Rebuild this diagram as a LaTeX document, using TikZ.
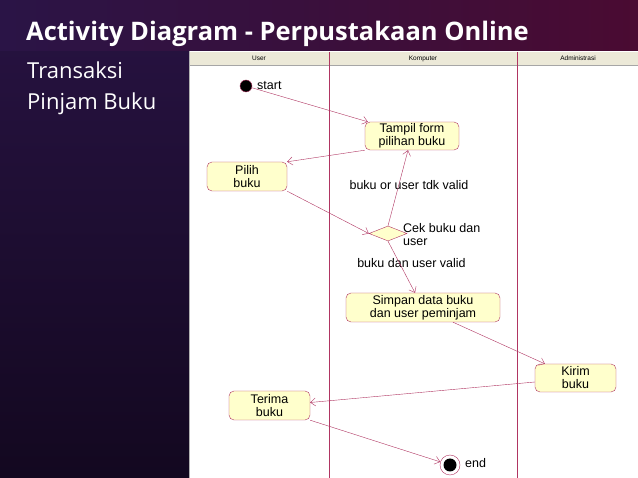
\documentclass[tikz,border=0pt]{standalone}
\usepackage{fontspec}
\setmainfont{Liberation Sans}
\newfontfamily\slidefont{Open Sans}
\usetikzlibrary{shapes.geometric,arrows.meta}

\definecolor{bgkiri}{HTML}{2A1446}
\definecolor{bgkanan}{HTML}{4A0B32}
\definecolor{bgbawah}{HTML}{130820}
\definecolor{garis}{HTML}{B03562}
\definecolor{isian}{HTML}{FFFFCC}
\definecolor{kepala}{HTML}{ECE9D8}

\tikzset{
    aktivitas/.style={draw=garis, fill=isian, rounded corners=5pt, align=center,
        inner sep=1pt, font=\fontsize{12.5}{13}\selectfont},
    keputusan/.style={draw=garis, fill=isian, diamond, inner sep=0pt,
        minimum width=38pt, minimum height=15pt},
    awal/.style={circle, fill=black, draw=garis, minimum size=12pt, inner sep=0pt},
    akhir/.style={circle, draw=garis, fill=white, minimum size=20pt, inner sep=0pt,
        path picture={\fill[black] (path picture bounding box.center) circle (6.5pt);}},
    alur/.style={draw=garis, ->, >={Straight Barb[length=5pt,width=8pt]}},
    teks/.style={font=\fontsize{12.5}{13}\selectfont, inner sep=0pt},
    lajur/.style={font=\fontsize{6.5}{7}\selectfont, inner sep=0pt}
}

\begin{document}
\begin{tikzpicture}[x=1pt, y=-1pt]
    \useasboundingbox (0,0) rectangle (638,478);

    % Sfondo
    \shade[left color=bgkiri, right color=bgkanan] (0,0) rectangle (638,52);
    \shade[top color=bgkiri!80!bgbawah, bottom color=bgbawah] (0,52) rectangle (190,478);

    % Titolo
    \node[anchor=base west, text=white, inner sep=0pt, font=\slidefont\bfseries\fontsize{25.5}{28}\selectfont]
        (judul) at (26,41) {Activity Diagram - Perpustakaan Online};
    \node[anchor=north west, text=white, inner sep=0pt, align=left, font=\slidefont\fontsize{22}{31}\selectfont]
        (subjudul) at (27,62) {Transaksi\\Pinjam Buku};

    % Pannello e corsie
    \fill[white] (189,51) rectangle (638,478);
    \fill[kepala] (190,52) rectangle (638,65);
    \draw[gray!70] (190,65) -- (638,65);
    \draw[gray!60] (189.5,51) -- (189.5,478);
    \draw[garis, line width=0.8pt] (329,52) -- (329,478);
    \draw[garis, line width=0.8pt] (517,52) -- (517,478);
    \node[lajur] (user) at (259,58.5) {User};
    \node[lajur] (komputer) at (423,58.5) {Komputer};
    \node[lajur] (admin) at (578,58.5) {Administrasi};

    % Nodi
    \node[awal] (start) at (246,86) {};
    \node[teks, anchor=west] (lstart) at (257,86) {start};
    \node[aktivitas, minimum width=94pt, minimum height=28pt] (tampil) at (412,136) {Tampil form\\pilihan buku};
    \node[aktivitas, minimum width=80pt, minimum height=29pt] (pilih) at (247,176.5) {Pilih\\buku};
    \node[keputusan] (cek) at (388,233.5) {};
    \node[teks, anchor=west, align=left] (lcek) at (403,234.5) {Cek buku dan\\user};
    \node[aktivitas, minimum width=154pt, minimum height=29pt] (simpan) at (423,307.5) {Simpan data buku\\dan user peminjam};
    \node[aktivitas, minimum width=81pt, minimum height=28pt] (kirim) at (575.5,378) {Kirim\\buku};
    \node[aktivitas, minimum width=81pt, minimum height=29pt] (terima) at (269.5,405.5) {Terima\\buku};
    \node[akhir] (end) at (450,465) {};
    \node[teks, anchor=west] (lend) at (465,463) {end};

    % Etichette
    \node[teks] (ltidak) at (409,185) {buku or user tdk valid};
    \node[teks] (lvalid) at (411.5,263.5) {buku dan user valid};

    % Transizioni
    \draw[alur] (start) -- ([xshift=3pt]tampil.north west);
    \draw[alur] (tampil.south west) -- (pilih.north east);
    \draw[alur] (pilih.south east) -- (cek.west);
    \draw[alur] (cek.north) -- ([xshift=-4pt]tampil.south);
    \draw[alur] (cek.south) -- ([xshift=-8pt]simpan.north);
    \draw[alur] ([xshift=30pt]simpan.south) -- ([xshift=10pt]kirim.north west);
    \draw[alur] ([yshift=-4pt]kirim.west) -- ([yshift=3pt]terima.east);
    \draw[alur] (terima.south east) -- (end);
\end{tikzpicture}
\end{document}
